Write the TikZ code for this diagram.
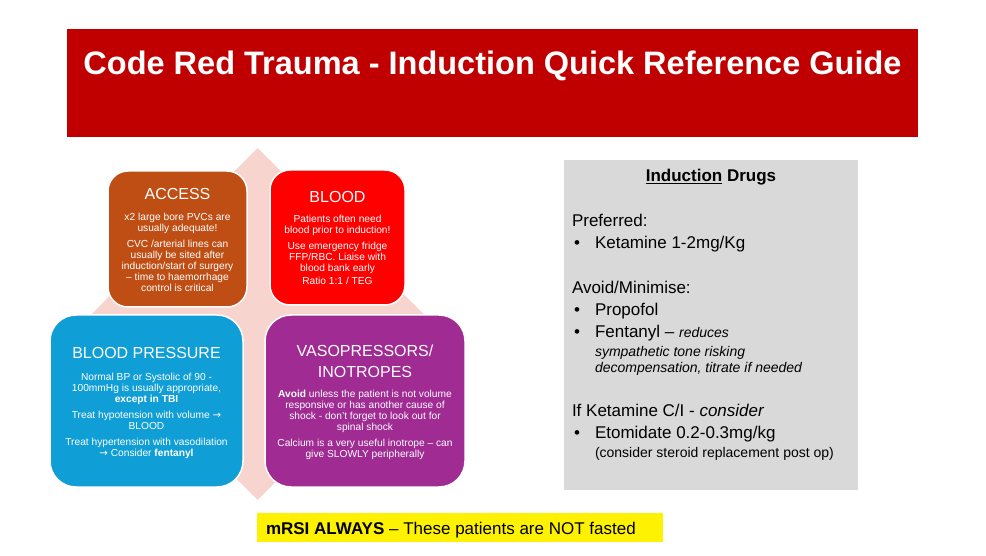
\documentclass[tikz,border=0pt]{standalone}
\usepackage{fontspec}
\setmainfont{Liberation Sans}
\newfontfamily\arrowfont{DejaVu Sans}
\usepackage{tikz}
\usetikzlibrary{
  calc,
  positioning,
}
\definecolor{bannerred}{HTML}{C00000}
\definecolor{accessorange}{HTML}{BF4E14}
\definecolor{bloodred}{HTML}{FF0000}
\definecolor{pressureblue}{HTML}{0F9ED5}
\definecolor{vasopurple}{HTML}{A02B93}
\definecolor{diamondpink}{HTML}{F7D4CD}
\definecolor{panelgrey}{HTML}{D9D9D9}
\newcommand{\drugbullet}{\hspace{2pt}\makebox[21pt][l]{•}}
\newcommand{\arr}{{\arrowfont →}}

\begin{document}
\begin{tikzpicture}[x=1pt, y=1pt,
  card/.style={draw=white, line width=1.5pt},
  cardhead/.style={font=\fontsize{16}{21}\selectfont, text=white, inner sep=0pt, align=center},
  cardbody/.style={font=\fontsize{10.2}{11}\selectfont, text=white, inner sep=0pt, align=center},
  drugline/.style={font=\fontsize{17}{22}\selectfont, anchor=base west, inner sep=0pt},
  drugnote/.style={font=\fontsize{14}{16}\selectfont, anchor=base west, inner sep=0pt}]
\useasboundingbox (0,0) rectangle (986,555);
\fill[white] (0,0) rectangle (986,555);

\node[fill=bannerred, minimum width=851pt, minimum height=108pt, inner sep=0pt] (banner) at (492.5,472) {};
\node[font=\bfseries\fontsize{32.5}{39}\selectfont, text=white, anchor=base, inner sep=0pt] (title)
  at ($(banner.north)+(0,-46)$) {Code Red Trauma - Induction Quick Reference Guide};

\fill[diamondpink] (257.5,407) -- (433.5,231) -- (257.5,55) -- (81.5,231) -- cycle;

\node[card, fill=accessorange, rounded corners=20pt, minimum width=139pt, minimum height=136pt] (access) at (177.5,316) {};
\node[card, fill=bloodred, rounded corners=20pt, minimum width=135pt, minimum height=135pt] (blood) at (337.5,317.5) {};
\node[card, fill=pressureblue, rounded corners=26pt, minimum width=193pt, minimum height=172pt] (pressure) at (146.5,154) {};
\node[card, fill=vasopurple, rounded corners=26pt, minimum width=200pt, minimum height=172pt] (vaso) at (365,154) {};

\node[cardhead, below=18pt of access.north] (accesshead) {ACCESS};
\node[cardbody, below=43pt of access.north] (accessbody) {x2 large bore PVCs are\\usually adequate!\\[5pt]CVC /arterial lines can\\usually be sited after\\induction/start of surgery\\– time to haemorrhage\\control is critical};

\node[cardhead, below=22pt of blood.north] (bloodhead) {BLOOD};
\node[cardbody, below=45.5pt of blood.north] (bloodbody) {Patients often need\\blood prior to induction!\\[5pt]Use emergency fridge\\FFP/RBC. Liaise with\\blood bank early\\[2pt]Ratio 1:1 / TEG};

\node[cardhead, below=33pt of pressure.north] (pressurehead) {BLOOD PRESSURE};
\node[cardbody, below=58.5pt of pressure.north] (pressurebody) {Normal BP or Systolic of 90 -\\100mmHg is usually appropriate,\\\textbf{except in TBI}\\[5pt]Treat hypotension with volume \arr\\BLOOD\\[5pt]Treat hypertension with vasodilation\\\arr{} Consider \textbf{fentanyl}};

\node[cardhead, below=30pt of vaso.north] (vasohead) {VASOPRESSORS/\\INOTROPES};
\node[cardbody, below=75.5pt of vaso.north] (vasobody) {\textbf{Avoid} unless the patient is not volume\\responsive or has another cause of\\shock - don’t forget to look out for\\spinal shock\\[5pt]Calcium is a very useful inotrope – can\\give SLOWLY peripherally};

\node[fill=panelgrey, minimum width=294pt, minimum height=330pt, inner sep=0pt] (drugs) at (711,230) {};
\node[font=\bfseries\fontsize{17}{22}\selectfont, anchor=base, inner sep=0pt] (drugshead) at ($(drugs.north)+(0,-22)$) {\underline{Induction} Drugs};
\node[drugline] (preferred) at ($(drugs.north west)+(8,-67)$) {Preferred:};
\node[drugline] (ketamine) at ($(preferred.base west)+(0,-22)$) {\drugbullet Ketamine 1-2mg/Kg};
\node[drugline] (avoid) at ($(ketamine.base west)+(0,-45)$) {Avoid/Minimise:};
\node[drugline] (propofol) at ($(avoid.base west)+(0,-22)$) {\drugbullet Propofol};
\node[drugline] (fentanyl) at ($(propofol.base west)+(0,-22)$) {\drugbullet Fentanyl – {\itshape\fontsize{14}{16}\selectfont reduces}};
\node[drugnote, font=\itshape\fontsize{14}{16}\selectfont] (tone) at ($(fentanyl.base west)+(23,-19)$) {sympathetic tone risking};
\node[drugnote, font=\itshape\fontsize{14}{16}\selectfont] (decomp) at ($(tone.base west)+(0,-16)$) {decompensation, titrate if needed};
\node[drugline] (ifketamine) at ($(fentanyl.base west)+(0,-79)$) {If Ketamine C/I - \textit{consider}};
\node[drugline] (etomidate) at ($(ifketamine.base west)+(0,-22)$) {\drugbullet Etomidate 0.2-0.3mg/kg};
\node[drugnote] (steroid) at ($(etomidate.base west)+(23,-19)$) {(consider steroid replacement post op)};

\node[fill=yellow, minimum width=406pt, minimum height=29pt, inner sep=0pt] (mrsi) at (460,27.5) {};
\node[font=\fontsize{17}{20}\selectfont, anchor=base west, inner sep=0pt] (mrsitext) at ($(mrsi.west)+(9,-6.5)$) {\textbf{mRSI ALWAYS} – These patients are NOT fasted};
\end{tikzpicture}
\end{document}
